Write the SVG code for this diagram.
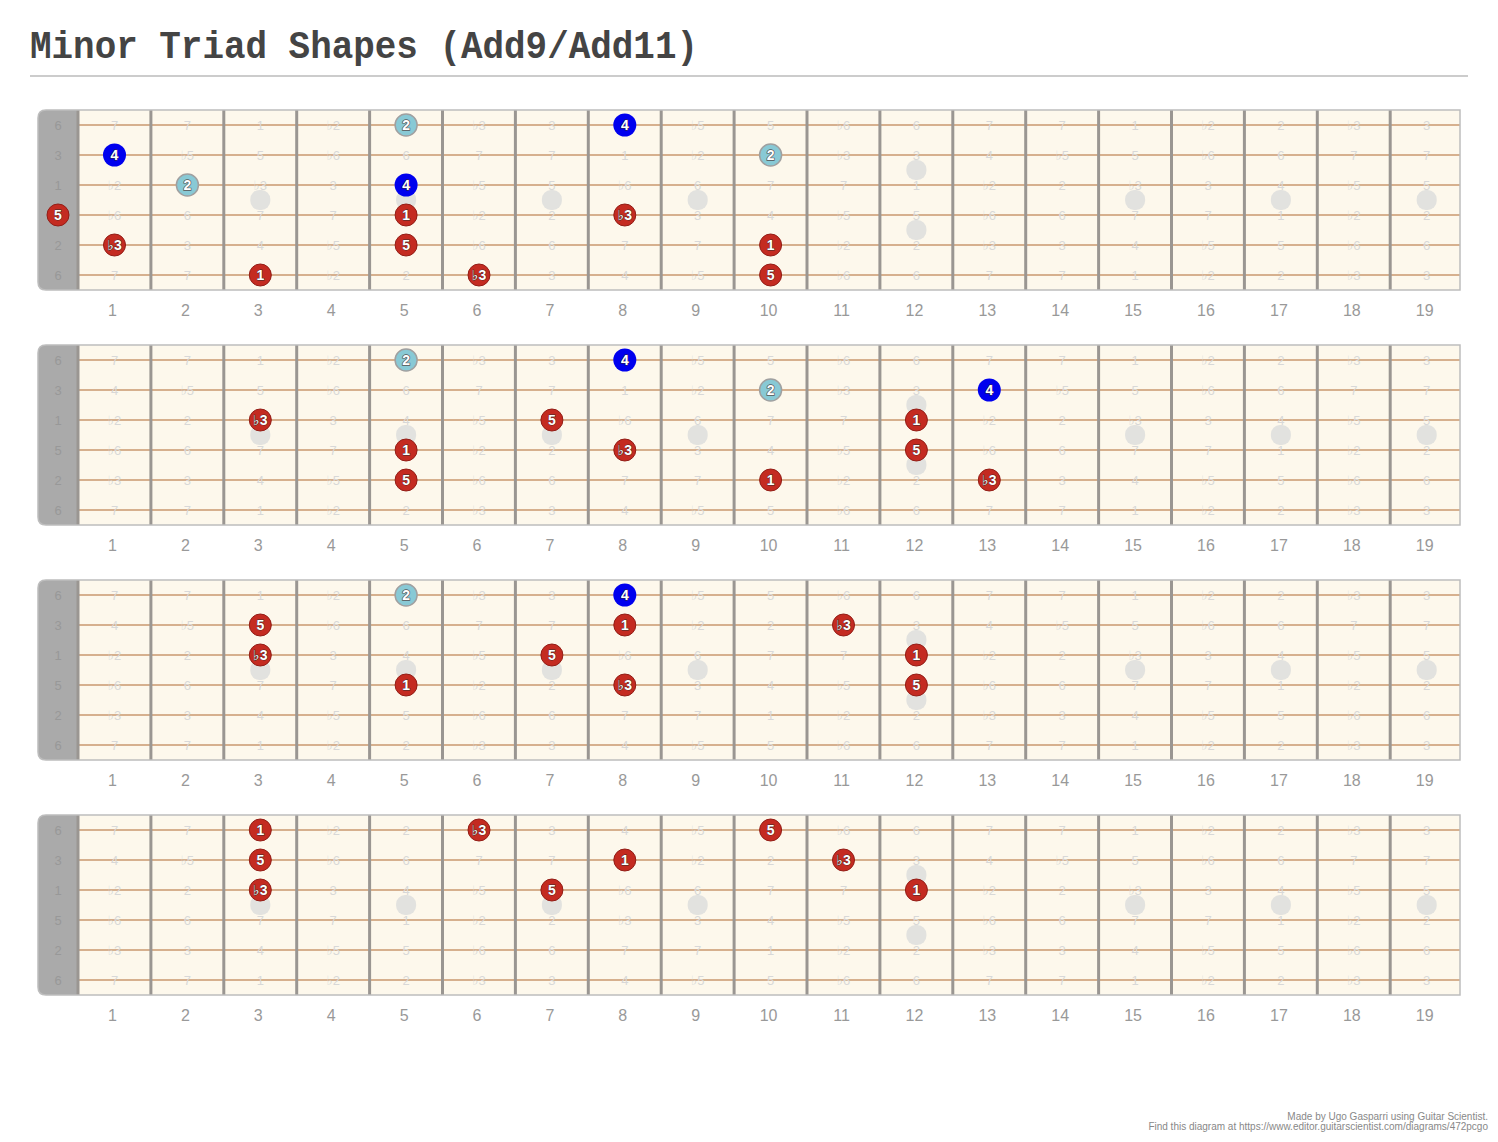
<svg xmlns="http://www.w3.org/2000/svg" xmlns:xlink="http://www.w3.org/1999/xlink" width="1498" height="1142" viewBox="0 0 1498 1142">
<style>
.title{font-family:"Liberation Mono","DejaVu Sans Mono",monospace;font-weight:bold;font-size:38px;fill:#444}
.foot{font-family:"Liberation Sans",Arial,sans-serif;font-size:10px;fill:#888;text-anchor:end}
.fl{font-family:"Liberation Sans","DejaVu Sans",sans-serif;font-size:13px;fill:#d8d8d8;text-anchor:middle;dominant-baseline:central}
.sl{font-family:"Liberation Sans","DejaVu Sans",sans-serif;font-size:13px;fill:#989898;text-anchor:middle;dominant-baseline:central}
.fn{font-family:"Liberation Sans","DejaVu Sans",sans-serif;font-size:16px;fill:#999;text-anchor:middle;dominant-baseline:central}
.fret{stroke:#9a9692;stroke-width:3}
.str{stroke:#d6b08e;stroke-width:2}
.dot{fill:#e2e2df}
.n text{font-family:"Liberation Sans","DejaVu Sans",sans-serif;font-weight:bold;font-size:14px;fill:#fff;stroke:#3a2a2a;stroke-width:0.8px;paint-order:stroke;text-anchor:middle;dominant-baseline:central}
.r circle{fill:#c42b21;stroke:#921d16;stroke-width:1}
.b circle{fill:#0000ee}
.l circle{fill:#88c9d5;stroke:#a0a0a0;stroke-width:1.5}
.l text{stroke:#555;stroke-width:1.4px}
</style>
<defs>
<g id="board">
<path d="M78,110 H46 Q38,110 38,118 V282 Q38,290 46,290 H78 Z" fill="#aaaaaa"/>
<rect x="78" y="110" width="1382" height="180" fill="#fdf8ec"/>
<g class="sl">
<text x="58" y="125">6</text><text x="58" y="155">3</text><text x="58" y="185">1</text><text x="58" y="215">5</text><text x="58" y="245">2</text><text x="58" y="275">6</text>
</g>
<g class="str">
<line x1="78" y1="125" x2="1460" y2="125"/><line x1="78" y1="155" x2="1460" y2="155"/><line x1="78" y1="185" x2="1460" y2="185"/><line x1="78" y1="215" x2="1460" y2="215"/><line x1="78" y1="245" x2="1460" y2="245"/><line x1="78" y1="275" x2="1460" y2="275"/>
</g>
<g class="fret">
<line x1="78" y1="110" x2="78" y2="290"/><line x1="150.9" y1="110" x2="150.9" y2="290"/><line x1="223.8" y1="110" x2="223.8" y2="290"/><line x1="296.7" y1="110" x2="296.7" y2="290"/><line x1="369.6" y1="110" x2="369.6" y2="290"/><line x1="442.5" y1="110" x2="442.5" y2="290"/><line x1="515.4" y1="110" x2="515.4" y2="290"/><line x1="588.3" y1="110" x2="588.3" y2="290"/><line x1="661.2" y1="110" x2="661.2" y2="290"/><line x1="734.1" y1="110" x2="734.1" y2="290"/><line x1="807" y1="110" x2="807" y2="290"/><line x1="879.9" y1="110" x2="879.9" y2="290"/><line x1="952.8" y1="110" x2="952.8" y2="290"/><line x1="1025.7" y1="110" x2="1025.7" y2="290"/><line x1="1098.6" y1="110" x2="1098.6" y2="290"/><line x1="1171.5" y1="110" x2="1171.5" y2="290"/><line x1="1244.4" y1="110" x2="1244.4" y2="290"/><line x1="1317.3" y1="110" x2="1317.3" y2="290"/><line x1="1390.2" y1="110" x2="1390.2" y2="290"/>
</g>
<g class="dot">
<rect x="250.3" y="190" width="20" height="20" rx="9"/><rect x="396.1" y="190" width="20" height="20" rx="9"/><rect x="541.9" y="190" width="20" height="20" rx="9"/><rect x="687.7" y="190" width="20" height="20" rx="9"/><rect x="906.4" y="160" width="20" height="20" rx="9"/><rect x="906.4" y="220" width="20" height="20" rx="9"/><rect x="1125.1" y="190" width="20" height="20" rx="9"/><rect x="1270.9" y="190" width="20" height="20" rx="9"/><rect x="1416.7" y="190" width="20" height="20" rx="9"/>
</g>
<g class="fl">
<text x="114.5" y="125">7</text><text x="187.4" y="125">7</text><text x="260.3" y="125">1</text><text x="333.2" y="125">♭2</text><text x="406.1" y="125">2</text><text x="479" y="125">♭3</text><text x="551.9" y="125">3</text><text x="624.8" y="125">4</text><text x="697.7" y="125">♭5</text><text x="770.6" y="125">5</text><text x="843.5" y="125">♭6</text><text x="916.4" y="125">6</text><text x="989.3" y="125">7</text><text x="1062.2" y="125">7</text><text x="1135.1" y="125">1</text><text x="1208" y="125">♭2</text><text x="1280.9" y="125">2</text><text x="1353.8" y="125">♭3</text><text x="1426.7" y="125">3</text>
<text x="114.5" y="155">4</text><text x="187.4" y="155">♭5</text><text x="260.3" y="155">5</text><text x="333.2" y="155">♭6</text><text x="406.1" y="155">6</text><text x="479" y="155">7</text><text x="551.9" y="155">7</text><text x="624.8" y="155">1</text><text x="697.7" y="155">♭2</text><text x="770.6" y="155">2</text><text x="843.5" y="155">♭3</text><text x="916.4" y="155">3</text><text x="989.3" y="155">4</text><text x="1062.2" y="155">♭5</text><text x="1135.1" y="155">5</text><text x="1208" y="155">♭6</text><text x="1280.9" y="155">6</text><text x="1353.8" y="155">7</text><text x="1426.7" y="155">7</text>
<text x="114.5" y="185">♭2</text><text x="187.4" y="185">2</text><text x="260.3" y="185">♭3</text><text x="333.2" y="185">3</text><text x="406.1" y="185">4</text><text x="479" y="185">♭5</text><text x="551.9" y="185">5</text><text x="624.8" y="185">♭6</text><text x="697.7" y="185">6</text><text x="770.6" y="185">7</text><text x="843.5" y="185">7</text><text x="916.4" y="185">1</text><text x="989.3" y="185">♭2</text><text x="1062.2" y="185">2</text><text x="1135.1" y="185">♭3</text><text x="1208" y="185">3</text><text x="1280.9" y="185">4</text><text x="1353.8" y="185">♭5</text><text x="1426.7" y="185">5</text>
<text x="114.5" y="215">♭6</text><text x="187.4" y="215">6</text><text x="260.3" y="215">7</text><text x="333.2" y="215">7</text><text x="406.1" y="215">1</text><text x="479" y="215">♭2</text><text x="551.9" y="215">2</text><text x="624.8" y="215">♭3</text><text x="697.7" y="215">3</text><text x="770.6" y="215">4</text><text x="843.5" y="215">♭5</text><text x="916.4" y="215">5</text><text x="989.3" y="215">♭6</text><text x="1062.2" y="215">6</text><text x="1135.1" y="215">7</text><text x="1208" y="215">7</text><text x="1280.9" y="215">1</text><text x="1353.8" y="215">♭2</text><text x="1426.7" y="215">2</text>
<text x="114.5" y="245">♭3</text><text x="187.4" y="245">3</text><text x="260.3" y="245">4</text><text x="333.2" y="245">♭5</text><text x="406.1" y="245">5</text><text x="479" y="245">♭6</text><text x="551.9" y="245">6</text><text x="624.8" y="245">7</text><text x="697.7" y="245">7</text><text x="770.6" y="245">1</text><text x="843.5" y="245">♭2</text><text x="916.4" y="245">2</text><text x="989.3" y="245">♭3</text><text x="1062.2" y="245">3</text><text x="1135.1" y="245">4</text><text x="1208" y="245">♭5</text><text x="1280.9" y="245">5</text><text x="1353.8" y="245">♭6</text><text x="1426.7" y="245">6</text>
<text x="114.5" y="275">7</text><text x="187.4" y="275">7</text><text x="260.3" y="275">1</text><text x="333.2" y="275">♭2</text><text x="406.1" y="275">2</text><text x="479" y="275">♭3</text><text x="551.9" y="275">3</text><text x="624.8" y="275">4</text><text x="697.7" y="275">♭5</text><text x="770.6" y="275">5</text><text x="843.5" y="275">♭6</text><text x="916.4" y="275">6</text><text x="989.3" y="275">7</text><text x="1062.2" y="275">7</text><text x="1135.1" y="275">1</text><text x="1208" y="275">♭2</text><text x="1280.9" y="275">2</text><text x="1353.8" y="275">♭3</text><text x="1426.7" y="275">3</text>
</g>
<path d="M1460,110 H46 Q38,110 38,118 V282 Q38,290 46,290 H1460 Z" fill="none" stroke="#bdbdbd" stroke-width="1.5"/>
<g class="fn">
<text x="112.5" y="310">1</text><text x="185.4" y="310">2</text><text x="258.3" y="310">3</text><text x="331.2" y="310">4</text><text x="404.1" y="310">5</text><text x="477" y="310">6</text><text x="549.9" y="310">7</text><text x="622.8" y="310">8</text><text x="695.7" y="310">9</text><text x="768.6" y="310">10</text><text x="841.5" y="310">11</text><text x="914.4" y="310">12</text><text x="987.3" y="310">13</text><text x="1060.2" y="310">14</text><text x="1133.1" y="310">15</text><text x="1206" y="310">16</text><text x="1278.9" y="310">17</text><text x="1351.8" y="310">18</text><text x="1424.7" y="310">19</text>
</g>
</g>
</defs>

<text class="title" x="30" y="58" textLength="668" lengthAdjust="spacingAndGlyphs">Minor Triad Shapes (Add9/Add11)</text>
<line x1="30" y1="76" x2="1468" y2="76" stroke="#cccccc" stroke-width="2"/>

<g id="fretboard-1">
<use href="#board" xlink:href="#board"/>
<g id="notes-1">
<g class="n r" transform="translate(58,215)"><circle r="11"/><text>5</text></g>
<g class="n b" transform="translate(114.5,155)"><circle r="11.5"/><text>4</text></g>
<g class="n r" transform="translate(114.5,245)"><circle r="11"/><text>♭3</text></g>
<g class="n l" transform="translate(187.4,185)"><circle r="11"/><text>2</text></g>
<g class="n r" transform="translate(260.3,275)"><circle r="11"/><text>1</text></g>
<g class="n l" transform="translate(406.1,125)"><circle r="11"/><text>2</text></g>
<g class="n b" transform="translate(406.1,185)"><circle r="11.5"/><text>4</text></g>
<g class="n r" transform="translate(406.1,215)"><circle r="11"/><text>1</text></g>
<g class="n r" transform="translate(406.1,245)"><circle r="11"/><text>5</text></g>
<g class="n r" transform="translate(479,275)"><circle r="11"/><text>♭3</text></g>
<g class="n b" transform="translate(624.8,125)"><circle r="11.5"/><text>4</text></g>
<g class="n r" transform="translate(624.8,215)"><circle r="11"/><text>♭3</text></g>
<g class="n l" transform="translate(770.6,155)"><circle r="11"/><text>2</text></g>
<g class="n r" transform="translate(770.6,245)"><circle r="11"/><text>1</text></g>
<g class="n r" transform="translate(770.6,275)"><circle r="11"/><text>5</text></g>
</g>
</g>

<g id="fretboard-2" transform="translate(0,235)">
<use href="#board" xlink:href="#board"/>
<g id="notes-2">
<g class="n r" transform="translate(260.3,185)"><circle r="11"/><text>♭3</text></g>
<g class="n l" transform="translate(406.1,125)"><circle r="11"/><text>2</text></g>
<g class="n r" transform="translate(406.1,215)"><circle r="11"/><text>1</text></g>
<g class="n r" transform="translate(406.1,245)"><circle r="11"/><text>5</text></g>
<g class="n r" transform="translate(551.9,185)"><circle r="11"/><text>5</text></g>
<g class="n b" transform="translate(624.8,125)"><circle r="11.5"/><text>4</text></g>
<g class="n r" transform="translate(624.8,215)"><circle r="11"/><text>♭3</text></g>
<g class="n l" transform="translate(770.6,155)"><circle r="11"/><text>2</text></g>
<g class="n r" transform="translate(770.6,245)"><circle r="11"/><text>1</text></g>
<g class="n r" transform="translate(916.4,185)"><circle r="11"/><text>1</text></g>
<g class="n r" transform="translate(916.4,215)"><circle r="11"/><text>5</text></g>
<g class="n b" transform="translate(989.3,155)"><circle r="11.5"/><text>4</text></g>
<g class="n r" transform="translate(989.3,245)"><circle r="11"/><text>♭3</text></g>
</g>
</g>

<g id="fretboard-3" transform="translate(0,470)">
<use href="#board" xlink:href="#board"/>
<g id="notes-3">
<g class="n r" transform="translate(260.3,155)"><circle r="11"/><text>5</text></g>
<g class="n r" transform="translate(260.3,185)"><circle r="11"/><text>♭3</text></g>
<g class="n l" transform="translate(406.1,125)"><circle r="11"/><text>2</text></g>
<g class="n r" transform="translate(406.1,215)"><circle r="11"/><text>1</text></g>
<g class="n r" transform="translate(551.9,185)"><circle r="11"/><text>5</text></g>
<g class="n b" transform="translate(624.8,125)"><circle r="11.5"/><text>4</text></g>
<g class="n r" transform="translate(624.8,155)"><circle r="11"/><text>1</text></g>
<g class="n r" transform="translate(624.8,215)"><circle r="11"/><text>♭3</text></g>
<g class="n r" transform="translate(843.5,155)"><circle r="11"/><text>♭3</text></g>
<g class="n r" transform="translate(916.4,185)"><circle r="11"/><text>1</text></g>
<g class="n r" transform="translate(916.4,215)"><circle r="11"/><text>5</text></g>
</g>
</g>

<g id="fretboard-4" transform="translate(0,705)">
<use href="#board" xlink:href="#board"/>
<g id="notes-4">
<g class="n r" transform="translate(260.3,125)"><circle r="11"/><text>1</text></g>
<g class="n r" transform="translate(260.3,155)"><circle r="11"/><text>5</text></g>
<g class="n r" transform="translate(260.3,185)"><circle r="11"/><text>♭3</text></g>
<g class="n r" transform="translate(479,125)"><circle r="11"/><text>♭3</text></g>
<g class="n r" transform="translate(551.9,185)"><circle r="11"/><text>5</text></g>
<g class="n r" transform="translate(624.8,155)"><circle r="11"/><text>1</text></g>
<g class="n r" transform="translate(770.6,125)"><circle r="11"/><text>5</text></g>
<g class="n r" transform="translate(843.5,155)"><circle r="11"/><text>♭3</text></g>
<g class="n r" transform="translate(916.4,185)"><circle r="11"/><text>1</text></g>
</g>
</g>

<g id="footer">
<text class="foot" x="1488" y="1120">Made by Ugo Gasparri using Guitar Scientist.</text>
<text class="foot" x="1488" y="1130">Find this diagram at https://www.editor.guitarscientist.com/diagrams/472pcgo</text>
</g>
</svg>
